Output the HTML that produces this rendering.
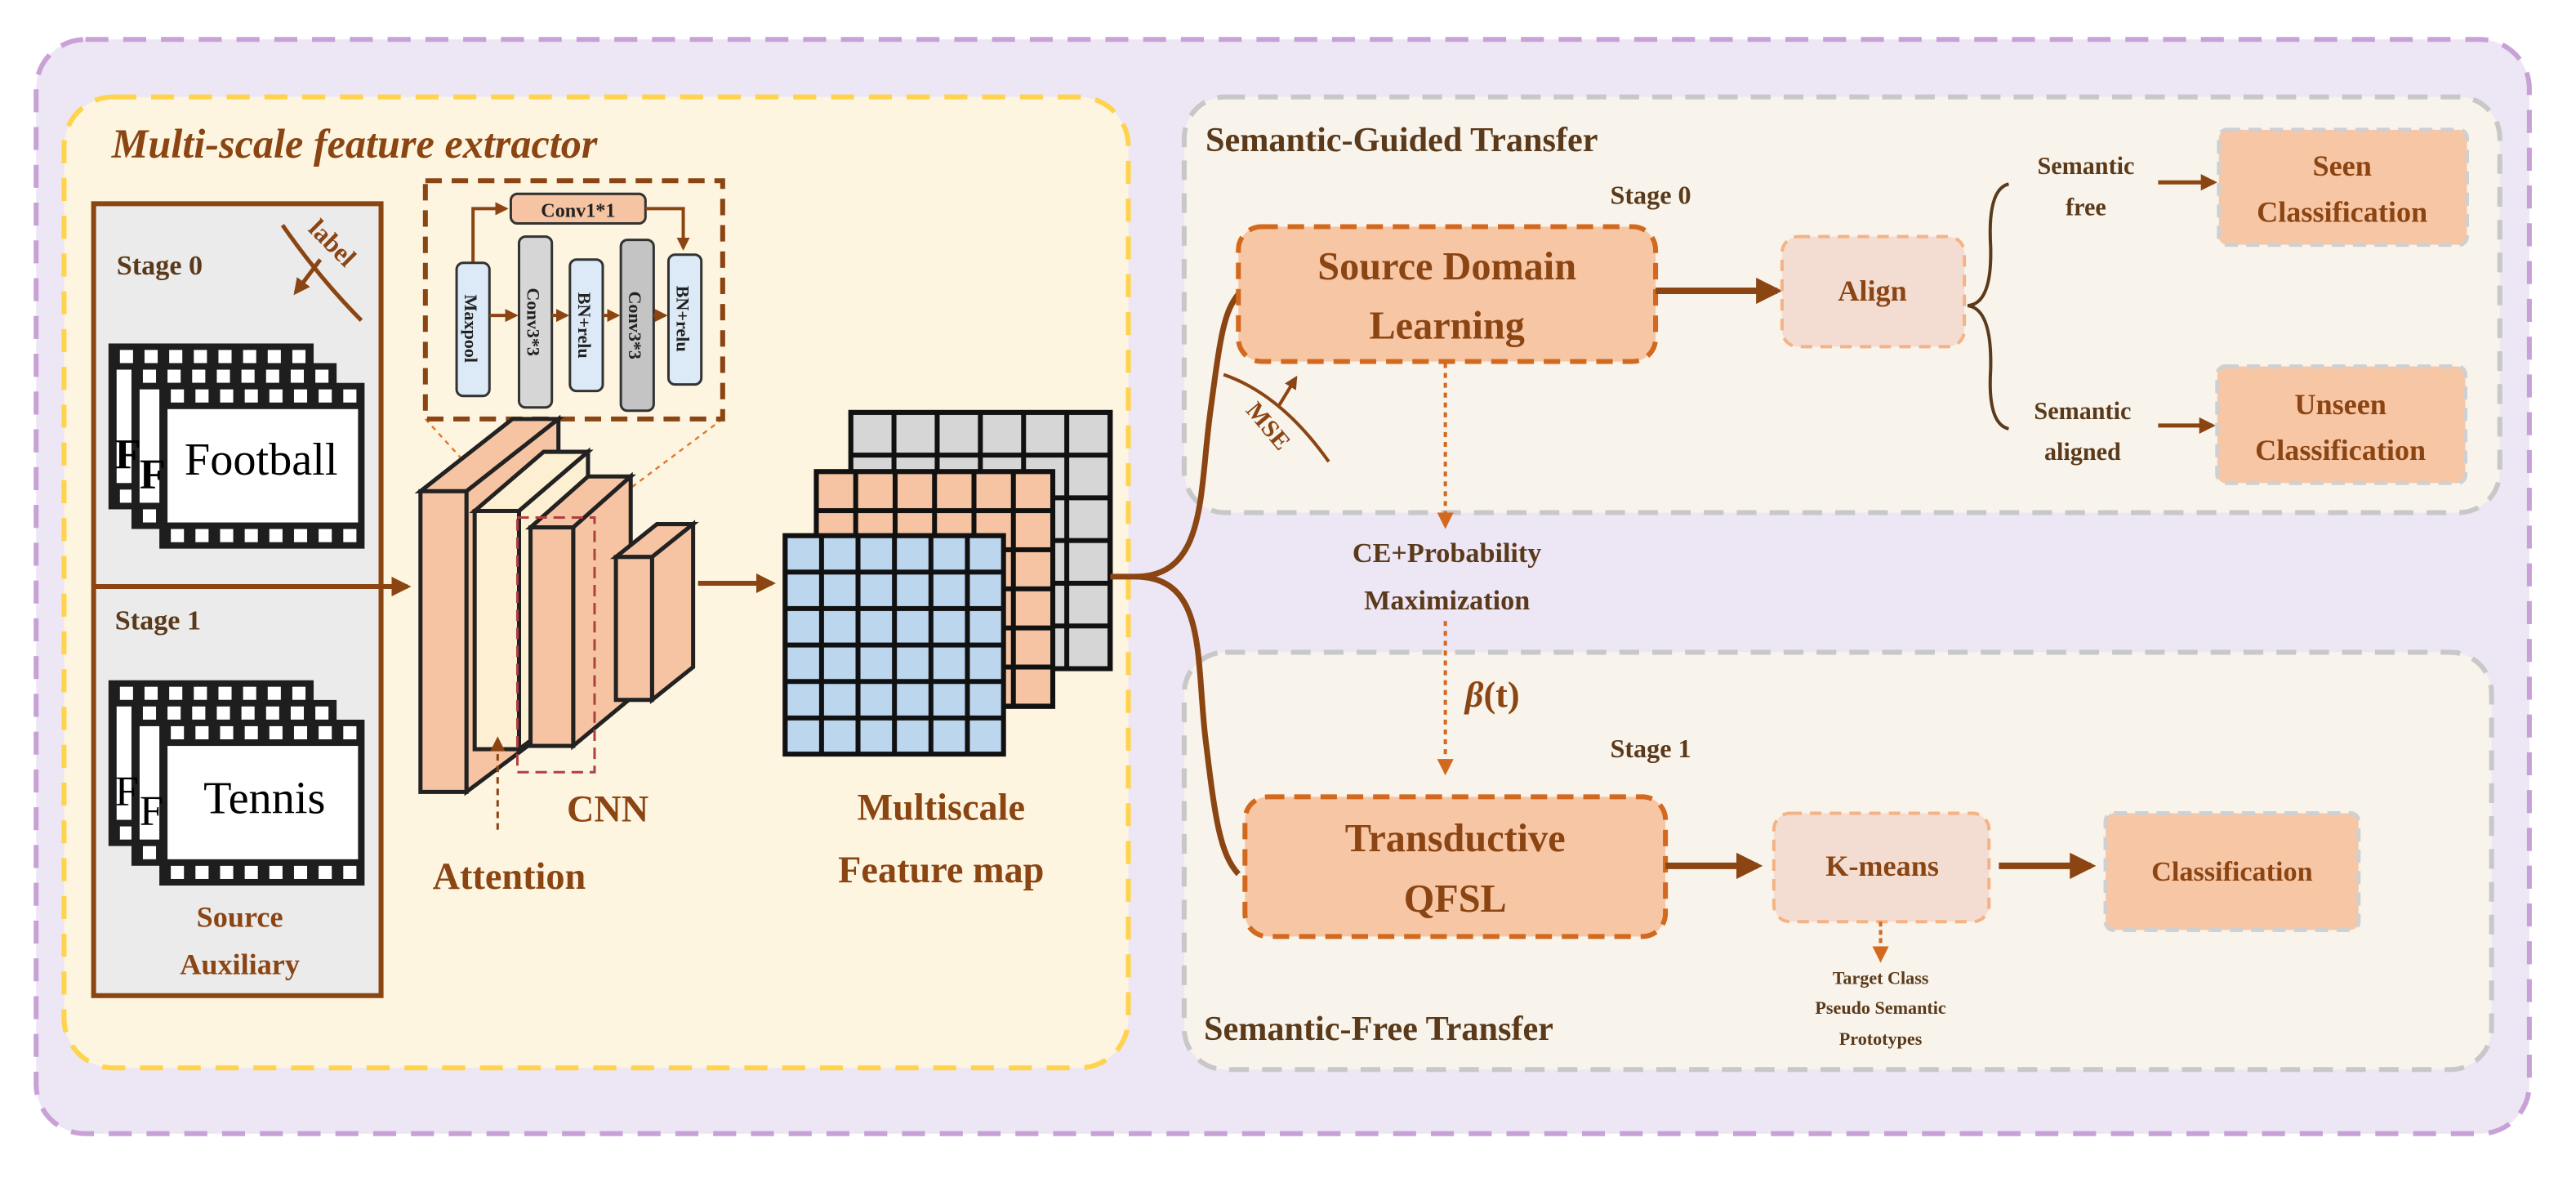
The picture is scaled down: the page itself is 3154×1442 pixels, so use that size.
<!DOCTYPE html>
<html><head><meta charset="utf-8"><style>
html,body{margin:0;padding:0;background:#fff;}
svg{display:block;}
text{font-family:"Liberation Serif",serif;font-weight:bold;}
</style></head><body>
<svg width="3154" height="1442" viewBox="0 0 1568.4 717" preserveAspectRatio="none" xmlns="http://www.w3.org/2000/svg">
<defs>
<symbol id="film" viewBox="0 0 125 101" width="125" height="101">
<rect x="0" y="0" width="125" height="101" fill="#1e1e1e"/>
<g fill="#fff">
<rect x="7" y="4" width="8" height="8"/><rect x="22" y="4" width="8" height="8"/><rect x="37" y="4" width="8" height="8"/><rect x="52" y="4" width="8" height="8"/><rect x="67" y="4" width="8" height="8"/><rect x="82" y="4" width="8" height="8"/><rect x="97" y="4" width="8" height="8"/><rect x="112" y="4" width="8" height="8"/>
<rect x="7" y="89" width="8" height="8"/><rect x="22" y="89" width="8" height="8"/><rect x="37" y="89" width="8" height="8"/><rect x="52" y="89" width="8" height="8"/><rect x="67" y="89" width="8" height="8"/><rect x="82" y="89" width="8" height="8"/><rect x="97" y="89" width="8" height="8"/><rect x="112" y="89" width="8" height="8"/>
<rect x="5" y="16" width="116" height="69"/>
</g>
</symbol>
<pattern id="pb" x="478" y="326" width="22.2" height="22.2" patternUnits="userSpaceOnUse"><rect width="22.2" height="22.2" fill="#bcd6ee" stroke="#111" stroke-width="3"/></pattern>
<pattern id="po" x="497" y="287" width="24" height="23.8" patternUnits="userSpaceOnUse"><rect width="24" height="23.8" fill="#f6c4a2" stroke="#111" stroke-width="3"/></pattern>
<pattern id="pg" x="518" y="251" width="26.3" height="26" patternUnits="userSpaceOnUse"><rect width="26.3" height="26" fill="#d6d6d6" stroke="#111" stroke-width="3"/></pattern>
<marker id="ah" viewBox="0 0 10 10" refX="8" refY="5" markerWidth="4" markerHeight="4" orient="auto"><path d="M0,0 L10,5 L0,10 z" fill="#8b4513"/></marker>
<marker id="ahs" viewBox="0 0 10 10" refX="8" refY="5" markerWidth="6" markerHeight="6" orient="auto"><path d="M0,0 L10,5 L0,10 z" fill="#8b4513"/></marker>
<marker id="aho" viewBox="0 0 10 10" refX="8" refY="5" markerWidth="5" markerHeight="5" orient="auto"><path d="M0,0 L10,5 L0,10 z" fill="#d2691e"/></marker>
</defs>

<!-- outer -->
<rect x="22" y="24" width="1518" height="666" rx="30" fill="#ece6f5" stroke="#c8a2d6" stroke-width="3" stroke-dasharray="14,9"/>
<!-- yellow -->
<rect x="39" y="59" width="648" height="591" rx="30" fill="#fdf5e0" stroke="#ffd34d" stroke-width="3" stroke-dasharray="14,9"/>
<text x="68" y="96" font-size="25" font-style="italic" fill="#8b4513">Multi-scale feature extractor</text>

<!-- source box -->
<rect x="57" y="124" width="175" height="482" fill="#ebebeb" stroke="#8b4513" stroke-width="3"/>
<line x1="57" y1="357" x2="248" y2="357" stroke="#8b4513" stroke-width="3" marker-end="url(#ah)"/>
<text x="71" y="167" font-size="17" fill="#5a3a1a">Stage 0</text>
<text x="70" y="383" font-size="17" fill="#5a3a1a">Stage 1</text>
<!-- label arc -->
<path d="M172,137 Q195,170 220,195" fill="none" stroke="#8b4513" stroke-width="2.5"/>
<path d="M195,158 L180,178" stroke="#8b4513" stroke-width="2.5" marker-end="url(#ah)"/>
<text x="0" y="0" font-size="16" fill="#8b4513" transform="translate(187,140) rotate(45)">label</text>

<use href="#film" x="66" y="209"/>
<use href="#film" x="80" y="221"/>
<use href="#film" x="97" y="233"/>
<text x="70" y="285" font-size="26" font-weight="normal" fill="#000">F</text>
<text x="85" y="297" font-size="26" font-weight="normal" fill="#000">F</text>
<text x="159" y="289" font-size="28" font-weight="normal" text-anchor="middle" fill="#000" style="font-weight:normal">Football</text>
<use href="#film" x="66" y="414"/>
<use href="#film" x="80" y="426"/>
<use href="#film" x="97" y="438"/>
<text x="70" y="490" font-size="26" fill="#000" style="font-weight:normal">F</text>
<text x="85" y="502" font-size="26" fill="#000" style="font-weight:normal">F</text>
<text x="161" y="495" font-size="28" text-anchor="middle" fill="#000" style="font-weight:normal">Tennis</text>
<text x="146" y="564" font-size="18" text-anchor="middle" fill="#8b4513">Source</text>
<text x="146" y="593" font-size="18" text-anchor="middle" fill="#8b4513">Auxiliary</text>

<!-- inner module -->
<line x1="259" y1="255" x2="300" y2="300" stroke="#e07830" stroke-width="1.2" stroke-dasharray="3,3"/>
<line x1="440" y1="255" x2="360" y2="315" stroke="#e07830" stroke-width="1.2" stroke-dasharray="3,3"/>
<rect x="259" y="110" width="181" height="145" fill="none" stroke="#8b4513" stroke-width="3" stroke-dasharray="10,6"/>
<rect x="311" y="118" width="82" height="18" rx="4" fill="#f6c4a2" stroke="#333" stroke-width="1.5"/>
<text x="352" y="132" font-size="12" text-anchor="middle" fill="#222">Conv1*1</text>
<path d="M288,160 V127 H308" fill="none" stroke="#8b4513" stroke-width="2" marker-end="url(#ah)"/>
<path d="M393,127 H416 V151" fill="none" stroke="#8b4513" stroke-width="2" marker-end="url(#ah)"/>
<rect x="278" y="160" width="20" height="81" rx="4" fill="#dce9f6" stroke="#333" stroke-width="1.5"/>
<rect x="316" y="144" width="20" height="104" rx="4" fill="#d6d6d6" stroke="#333" stroke-width="1.5"/>
<rect x="347" y="158" width="20" height="80" rx="4" fill="#dce9f6" stroke="#333" stroke-width="1.5"/>
<rect x="378" y="146" width="20" height="104" rx="4" fill="#c4c4c4" stroke="#333" stroke-width="1.5"/>
<rect x="407" y="155" width="20" height="79" rx="4" fill="#dce9f6" stroke="#333" stroke-width="1.5"/>
<g stroke="#8b4513" stroke-width="2"><line x1="298" y1="192" x2="314" y2="192" marker-end="url(#ah)"/><line x1="336" y1="192" x2="345" y2="192" marker-end="url(#ah)"/><line x1="367" y1="192" x2="376" y2="192" marker-end="url(#ah)"/><line x1="398" y1="192" x2="405" y2="192" marker-end="url(#ah)"/></g>
<g font-size="11" fill="#222" style="font-weight:normal">
<text transform="translate(283,200) rotate(90)" text-anchor="middle">Maxpool</text>
<text transform="translate(321,196) rotate(90)" text-anchor="middle">Conv3*3</text>
<text transform="translate(352,198) rotate(90)" text-anchor="middle">BN+relu</text>
<text transform="translate(383,198) rotate(90)" text-anchor="middle">Conv3*3</text>
<text transform="translate(412,194) rotate(90)" text-anchor="middle">BN+relu</text>
</g>

<!-- cubes -->
<g stroke="#222" stroke-width="2.5" stroke-linejoin="miter">
<polygon points="256,299 284,299 340,255 312,255" fill="#f6c4a2"/>
<polygon points="284,299 340,255 340,440 284,482" fill="#f6c4a2"/>
<rect x="256" y="299" width="28" height="183" fill="#f6c4a2"/>
<polygon points="289,311 316,311 358,275 331,275" fill="#fdf0d2"/>
<polygon points="316,311 358,275 358,425 316,456" fill="#fdf0d2"/>
<rect x="289" y="311" width="27" height="145" fill="#fdf0d2"/>
<polygon points="323,321 349,321 384,290 358,290" fill="#f6c4a2"/>
<polygon points="349,321 384,290 384,425 349,454" fill="#f6c4a2"/>
<rect x="323" y="321" width="26" height="133" fill="#f6c4a2"/>
<polygon points="375,339 397,339 422,319 400,319" fill="#f6c4a2"/>
<polygon points="397,339 422,319 422,406 397,426" fill="#f6c4a2"/>
<rect x="375" y="339" width="22" height="87" fill="#f6c4a2"/>
</g>
<rect x="315" y="315" width="47" height="155" fill="none" stroke="#b04040" stroke-width="1.5" stroke-dasharray="7,4"/>
<line x1="303" y1="505" x2="303" y2="450" stroke="#8b4513" stroke-width="1.5" stroke-dasharray="4,3" marker-end="url(#ahs)"/>
<text x="370" y="500" font-size="23" text-anchor="middle" fill="#8b4513">CNN</text>
<text x="310" y="541" font-size="23" text-anchor="middle" fill="#8b4513">Attention</text>
<line x1="425" y1="355" x2="470" y2="355" stroke="#8b4513" stroke-width="3" marker-end="url(#ah)"/>

<!-- grids -->
<rect x="518" y="251" width="158" height="156" fill="url(#pg)" stroke="#111" stroke-width="3"/>
<rect x="497" y="287" width="144" height="143" fill="url(#po)" stroke="#111" stroke-width="3"/>
<rect x="478" y="326" width="133" height="133" fill="url(#pb)" stroke="#111" stroke-width="3"/>
<text x="573" y="499" font-size="23" text-anchor="middle" fill="#8b4513">Multiscale</text>
<text x="573" y="537" font-size="23" text-anchor="middle" fill="#8b4513">Feature map</text>

<!-- right panels -->
<rect x="721" y="59" width="801" height="253" rx="25" fill="#f8f3eb" stroke="#c8c8c8" stroke-width="3" stroke-dasharray="12,8"/>
<rect x="721" y="397" width="796" height="254" rx="25" fill="#f8f3eb" stroke="#c8c8c8" stroke-width="3" stroke-dasharray="12,8"/>
<text x="734" y="92" font-size="21" fill="#5a3a1a">Semantic-Guided Transfer</text>
<text x="733" y="633" font-size="21" fill="#5a3a1a">Semantic-Free Transfer</text>
<text x="1005" y="124" font-size="16" text-anchor="middle" fill="#5a3a1a">Stage 0</text>
<text x="1005" y="461" font-size="16" text-anchor="middle" fill="#5a3a1a">Stage 1</text>

<!-- branch -->
<path d="M676,351 H691 C735,351 730,300 737,250 C743,205 745,190 754,179" fill="none" stroke="#8b4513" stroke-width="3.5"/>
<path d="M691,351 C735,351 728,400 734,450 C740,500 743,520 754,532" fill="none" stroke="#8b4513" stroke-width="3.5"/>

<!-- SDL -->
<rect x="754" y="138" width="254" height="82" rx="14" fill="#f7c6a5" stroke="#d2691e" stroke-width="3" stroke-dasharray="10,6"/>
<text x="881" y="170" font-size="24" text-anchor="middle" fill="#8b4513">Source Domain</text>
<text x="881" y="206" font-size="24" text-anchor="middle" fill="#8b4513">Learning</text>
<line x1="1008" y1="177" x2="1082" y2="177" stroke="#8b4513" stroke-width="4" marker-end="url(#ah)"/>
<rect x="1085" y="144" width="111" height="67" rx="10" fill="#f3ddd3" stroke="#f5b385" stroke-width="2" stroke-dasharray="7,5"/>
<text x="1140" y="183" font-size="18" text-anchor="middle" fill="#8b4513">Align</text>
<path d="M1223,112 Q1210,115 1212,150 Q1213,185 1198,186 Q1213,188 1212,225 Q1210,258 1223,261" fill="none" stroke="#5a3a1a" stroke-width="2"/>
<text x="1270" y="106" font-size="15" text-anchor="middle" fill="#5a3a1a">Semantic</text>
<text x="1270" y="131" font-size="15" text-anchor="middle" fill="#5a3a1a">free</text>
<line x1="1314" y1="111" x2="1348" y2="111" stroke="#8b4513" stroke-width="2.5" marker-end="url(#ah)"/>
<text x="1268" y="255" font-size="15" text-anchor="middle" fill="#5a3a1a">Semantic</text>
<text x="1268" y="280" font-size="15" text-anchor="middle" fill="#5a3a1a">aligned</text>
<line x1="1314" y1="259" x2="1347" y2="259" stroke="#8b4513" stroke-width="2.5" marker-end="url(#ah)"/>
<rect x="1351" y="79" width="151" height="70" rx="5" fill="#f7c6a5" stroke="#d0d0d0" stroke-width="2.5" stroke-dasharray="8,5"/>
<text x="1426" y="107" font-size="18" text-anchor="middle" fill="#8b4513">Seen</text>
<text x="1426" y="135" font-size="18" text-anchor="middle" fill="#8b4513">Classification</text>
<rect x="1350" y="223" width="151" height="71" rx="5" fill="#f7c6a5" stroke="#d0d0d0" stroke-width="2.5" stroke-dasharray="8,5"/>
<text x="1425" y="252" font-size="18" text-anchor="middle" fill="#8b4513">Unseen</text>
<text x="1425" y="280" font-size="18" text-anchor="middle" fill="#8b4513">Classification</text>

<!-- MSE -->
<path d="M745,228 Q780,240 809,281" fill="none" stroke="#8b4513" stroke-width="2"/>
<line x1="778" y1="248" x2="789" y2="230" stroke="#8b4513" stroke-width="2" marker-end="url(#ah)"/>
<text transform="translate(758,250) rotate(50)" font-size="15" fill="#8b4513">MSE</text>

<!-- dotted -->
<line x1="880" y1="221" x2="880" y2="320" stroke="#d2691e" stroke-width="2" stroke-dasharray="3,3" marker-end="url(#aho)"/>
<text x="881" y="342" font-size="17" text-anchor="middle" fill="#5a3a1a">CE+Probability</text>
<text x="881" y="371" font-size="17" text-anchor="middle" fill="#5a3a1a">Maximization</text>
<line x1="880" y1="378" x2="880" y2="470" stroke="#d2691e" stroke-width="2" stroke-dasharray="3,3" marker-end="url(#aho)"/>
<text x="892" y="430" font-size="22" fill="#8b4513"><tspan font-style="italic">β</tspan>(t)</text>

<!-- bottom row -->
<rect x="758" y="485" width="256" height="85" rx="14" fill="#f7c6a5" stroke="#d2691e" stroke-width="3" stroke-dasharray="10,6"/>
<text x="886" y="518" font-size="24" text-anchor="middle" fill="#8b4513">Transductive</text>
<text x="886" y="555" font-size="24" text-anchor="middle" fill="#8b4513">QFSL</text>
<line x1="1014" y1="527" x2="1070" y2="527" stroke="#8b4513" stroke-width="4" marker-end="url(#ah)"/>
<rect x="1080" y="495" width="131" height="66" rx="10" fill="#f3ddd3" stroke="#f5b385" stroke-width="2" stroke-dasharray="7,5"/>
<text x="1146" y="533" font-size="18" text-anchor="middle" fill="#8b4513">K-means</text>
<line x1="1217" y1="527" x2="1273" y2="527" stroke="#8b4513" stroke-width="4" marker-end="url(#ah)"/>
<rect x="1282" y="495" width="154" height="71" rx="5" fill="#f7c6a5" stroke="#d0d0d0" stroke-width="2.5" stroke-dasharray="8,5"/>
<text x="1359" y="536" font-size="17" text-anchor="middle" fill="#8b4513">Classification</text>
<line x1="1145" y1="561" x2="1145" y2="584" stroke="#d2691e" stroke-width="2" stroke-dasharray="3,2" marker-end="url(#aho)"/>
<g font-size="11" text-anchor="middle" fill="#5a3a1a">
<text x="1145" y="599">Target Class</text>
<text x="1145" y="617">Pseudo Semantic</text>
<text x="1145" y="636">Prototypes</text>
</g>
</svg>
</body></html>
